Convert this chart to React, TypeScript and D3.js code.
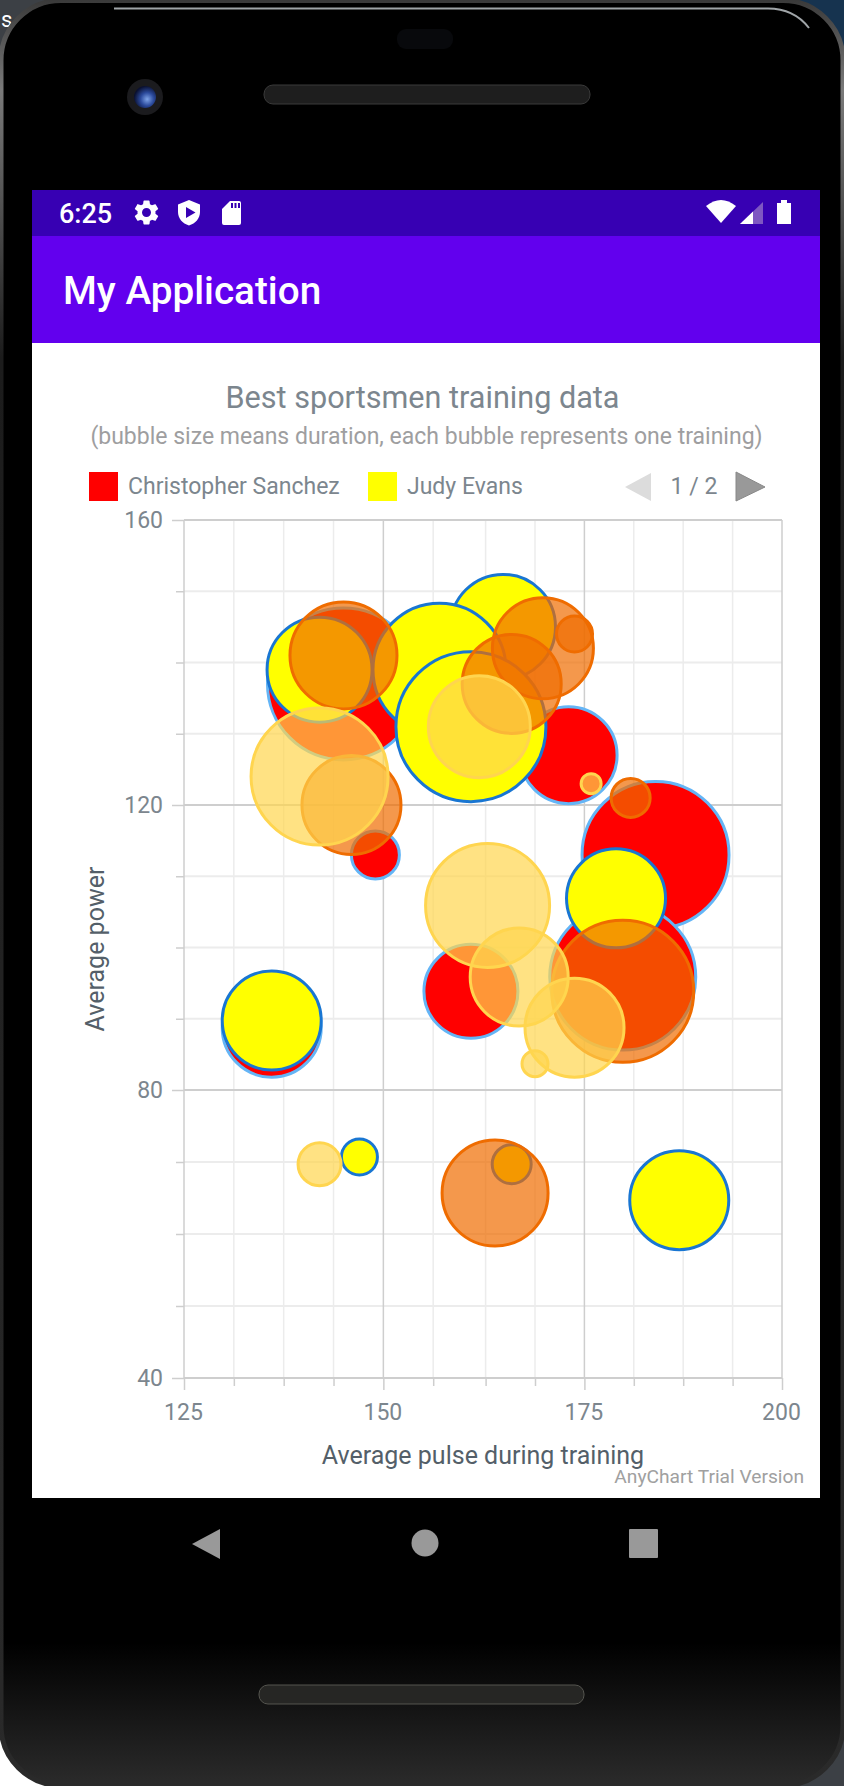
import { useRef, useEffect } from 'react';
import * as d3 from 'd3';

// one training = one bubble: pulse, power, duration
const sanchezPulse = [145, 136, 184, 179.85, 173, 149, 160.75];
const sanchezPower = [137, 88.75, 113, 95.85, 127, 113, 93.85];
const sanchezDuration = [152, 99, 147, 146, 97, 48, 94];

const evansPulse = [164.7, 142, 157, 160.75, 179, 136, 147, 187, 165.8];
const evansPower = [145, 139, 139, 131, 106.9, 89.75, 70.7, 64.7, 69.7];
const evansDuration = [105, 105, 133, 150, 99, 99, 36, 99, 39];

const thirdPulse = [145, 165.8, 169.75, 173.75, 146, 180.85, 179.85, 163.7];
const thirdPower = [141, 137, 142, 144, 120, 121, 93.85, 65.7];
const thirdDuration = [107, 99, 101, 36, 99, 39, 142, 106];

const fourthPulse = [142, 161.75, 175.85, 162.75, 166.75, 173.75, 168.75, 142];
const fourthPower = [124, 131, 123, 105.9, 95.85, 88.75, 83.7, 69.7];
const fourthDuration = [137, 102, 20, 124, 98, 99, 26, 43];

const xMajor = [125, 150, 175, 200];
const yMajor = [40, 80, 120, 160];
const xMinor = [131.25, 137.5, 143.75, 156.25, 162.5, 168.75, 181.25, 187.5, 193.75];
const yMinor = [50, 60, 70, 90, 100, 110, 130, 140, 150];

const legendNames = ['Christopher Sanchez', 'Judy Evans'];

const FONT = 'Roboto, sans-serif';

const GEAR = 'M19.14 12.94c.04-.3.06-.61.06-.94 0-.32-.02-.64-.07-.94l2.03-1.58c.18-.14.23-.41.12-.61l-1.92-3.32c-.12-.22-.37-.29-.59-.22l-2.39.96c-.5-.38-1.03-.7-1.62-.94l-.36-2.54c-.04-.24-.24-.41-.48-.41h-3.84c-.24 0-.43.17-.47.41l-.36 2.54c-.59.24-1.13.57-1.62.94l-2.39-.96c-.22-.08-.47 0-.59.22L2.74 8.87c-.12.21-.08.47.12.61l2.03 1.58c-.05.3-.09.63-.09.94s.02.64.07.94l-2.03 1.58c-.18.14-.23.41-.12.61l1.92 3.32c.12.22.37.29.59.22l2.39-.96c.5.38 1.03.7 1.62.94l.36 2.54c.05.24.24.41.48.41h3.84c.24 0 .44-.17.47-.41l.36-2.54c.59-.24 1.13-.56 1.62-.94l2.39.96c.22.08.47 0 .59-.22l1.92-3.32c.12-.22.07-.47-.12-.61l-2.01-1.58zM12 15.6c-1.98 0-3.6-1.62-3.6-3.6s1.62-3.6 3.6-3.6 3.6 1.62 3.6 3.6-1.62 3.6-3.6 3.6z';

export default function App() {
  const svgRef = useRef<SVGSVGElement>(null);

  useEffect(() => {
    if (!svgRef.current) return;
    const svg = d3.select(svgRef.current);
    svg.selectAll('*').remove();

    const defs = svg.append('defs');
    const bodyGrad = defs.append('linearGradient').attr('id', 'body').attr('x1', 0).attr('x2', 0).attr('y1', 0).attr('y2', 1);
    bodyGrad.append('stop').attr('offset', '0.92').attr('stop-color', '#000');
    bodyGrad.append('stop').attr('offset', '1').attr('stop-color', '#2b2b2b');
    const rimGrad = defs.append('linearGradient').attr('id', 'rim').attr('x1', 0).attr('x2', 0).attr('y1', 0).attr('y2', 1);
    rimGrad.append('stop').attr('offset', '0').attr('stop-color', '#3a3a3a');
    rimGrad.append('stop').attr('offset', '0.05').attr('stop-color', '#7a7a7a');
    rimGrad.append('stop').attr('offset', '0.2').attr('stop-color', '#1c1c1c');
    rimGrad.append('stop').attr('offset', '1').attr('stop-color', '#2a2a2a');
    const lens = defs.append('radialGradient').attr('id', 'lens').attr('cx', '0.6').attr('cy', '0.6').attr('r', '0.6');
    lens.append('stop').attr('offset', '0').attr('stop-color', '#7fa4e8');
    lens.append('stop').attr('offset', '0.5').attr('stop-color', '#2b4a9c');
    lens.append('stop').attr('offset', '1').attr('stop-color', '#0a1030');

    // Backdrop showing in the corners of the phone
    const corners: [number, number, string][] = [
      [0, 0, '#3c4045'], [744, 0, '#16334f'], [0, 1686, '#ffffff'], [744, 1686, '#3c4045'],
    ];
    corners.forEach(([x, y, c]) => {
      svg.append('rect').attr('x', x).attr('y', y).attr('width', 100).attr('height', 100).attr('fill', c);
    });
    svg.append('text').attr('x', 1).attr('y', 27).attr('fill', '#fff').attr('font-family', FONT)
      .attr('font-size', 22).text('s');

    // Phone body
    svg.append('rect').attr('x', 1).attr('y', 0.5).attr('width', 842).attr('height', 1785)
      .attr('rx', 60).attr('fill', 'url(#body)').attr('stroke', 'url(#rim)').attr('stroke-width', 5);
    svg.append('path').attr('d', 'M114 8.5H768C785 8.5 799 15 809 28').attr('fill', 'none')
      .attr('stroke', '#a0a5a8').attr('stroke-width', 2);

    svg.append('circle').attr('cx', 145).attr('cy', 97).attr('r', 18).attr('fill', '#1b1b1e');
    svg.append('circle').attr('cx', 145).attr('cy', 97).attr('r', 11).attr('fill', 'url(#lens)');
    svg.append('rect').attr('x', 264).attr('y', 85).attr('width', 326).attr('height', 19).attr('rx', 9)
      .attr('fill', '#1e1e1e').attr('stroke', '#3a3a3a').attr('stroke-width', 1);
    svg.append('rect').attr('x', 397).attr('y', 29).attr('width', 56).attr('height', 20).attr('rx', 9).attr('fill', '#08090c');
    svg.append('rect').attr('x', 259).attr('y', 1685).attr('width', 325).attr('height', 19).attr('rx', 9)
      .attr('fill', '#262624').attr('stroke', '#55554f').attr('stroke-width', 1);

    // Screen
    svg.append('rect').attr('x', 32).attr('y', 190).attr('width', 788).attr('height', 46).attr('fill', '#3700b3');
    svg.append('rect').attr('x', 32).attr('y', 236).attr('width', 788).attr('height', 107).attr('fill', '#6200ee');
    svg.append('rect').attr('x', 32).attr('y', 343).attr('width', 788).attr('height', 1155).attr('fill', '#fff');

    svg.append('text').attr('x', 59).attr('y', 223).attr('fill', '#fff').attr('font-family', FONT)
      .attr('font-size', 27).attr('font-weight', 500).text('6:25');
    svg.append('path').attr('d', GEAR).attr('fill', '#fff').attr('transform', 'translate(131.5,197.5) scale(1.25)');
    svg.append('path').attr('fill', '#fff').attr('fill-rule', 'evenodd')
      .attr('d', 'M189 200L178 204.5V212C178 218.5 182.5 223.5 189 225.5C195.5 223.5 200 218.5 200 212V204.5ZM186 207L195.5 212.5L186 218Z');
    svg.append('path').attr('fill', '#fff').attr('fill-rule', 'evenodd')
      .attr('d', 'M230 201H239A2 2 0 0 1 241 203V223A2 2 0 0 1 239 225H224A2 2 0 0 1 222 223V209ZM231 203V208H233V203ZM234.5 203V208H236.5V203ZM238 203V208H240V203Z');
    svg.append('path').attr('fill', '#fff').attr('d', 'M706 206Q721 194 736 206L721 223Z');
    svg.append('path').attr('fill', '#7e57c2').attr('d', 'M763 202V224H740Z');
    svg.append('path').attr('fill', '#fff').attr('d', 'M753 211.5V224H740Z');
    svg.append('path').attr('fill', '#fff').attr('d', 'M781 203V200H787V203H791V224H777V203Z');
    svg.append('text').attr('x', 63).attr('y', 304).attr('fill', '#fff').attr('font-family', FONT)
      .attr('font-size', 38.7).attr('font-weight', 500).text('My Application');

    // Navigation bar
    svg.append('path').attr('fill', '#999').attr('d', 'M220 1529V1559L192 1544Z');
    svg.append('circle').attr('cx', 425).attr('cy', 1543).attr('r', 13.5).attr('fill', '#999');
    svg.append('rect').attr('x', 629).attr('y', 1529).attr('width', 29).attr('height', 29).attr('rx', 1).attr('fill', '#999');

    // Title, legend
    svg.append('text').attr('x', 422.5).attr('y', 408).attr('text-anchor', 'middle').attr('fill', '#7c868e')
      .attr('font-family', FONT).attr('font-size', 30.6).text('Best sportsmen training data');
    svg.append('text').attr('x', 426.5).attr('y', 444).attr('text-anchor', 'middle').attr('fill', '#9e9ea0')
      .attr('font-family', FONT).attr('font-size', 23).text('(bubble size means duration, each bubble represents one training)');

    const legendX = [89, 368];
    const legendFill = ['#ff0000', '#ffff00'];
    legendNames.forEach((name, i) => {
      svg.append('rect').attr('x', legendX[i]).attr('y', 472).attr('width', 29).attr('height', 29).attr('fill', legendFill[i]);
      svg.append('text').attr('x', legendX[i] + 39).attr('y', 494).attr('fill', '#7c868e')
        .attr('font-family', FONT).attr('font-size', 23).text(name);
    });
    svg.append('path').attr('d', 'M651 473V501L625 487Z').attr('fill', '#dcdcdc');
    svg.append('text').attr('x', 694).attr('y', 494).attr('text-anchor', 'middle').attr('fill', '#7c868e')
      .attr('font-family', FONT).attr('font-size', 23).text('1 / 2');
    svg.append('path').attr('d', 'M736 472V501L765 487Z').attr('fill', '#999').attr('stroke', '#888');

    // Scales. The screenshot is slightly uneven, hence the extra stops
    const x = d3.scaleLinear().domain([125, 156.25, 162.5, 200]).range([184, 433.2, 485.6, 782]);
    const y = d3.scaleLinear().domain([40, 80, 160]).range([1378, 1090, 520]);
    const r = d3.scaleLinear().domain([0, 152]).range([0, 76]);

    // Grid
    const grid = svg.append('g');
    const gridX = (vals: number[], color: string, width: number) => {
      vals.forEach((v) => {
        grid.append('line').attr('x1', x(v)).attr('x2', x(v)).attr('y1', y(160)).attr('y2', y(40))
          .attr('stroke', color).attr('stroke-width', width);
      });
    };
    const gridY = (vals: number[], color: string, width: number) => {
      vals.forEach((v) => {
        grid.append('line').attr('x1', x(125)).attr('x2', x(200)).attr('y1', y(v)).attr('y2', y(v))
          .attr('stroke', color).attr('stroke-width', width);
      });
    };
    gridX(xMinor, '#ececec', 1.5);
    gridY(yMinor, '#ececec', 2);
    gridX(xMajor, '#cecece', 1.5);
    gridY(yMajor, '#cecece', 2);

    // Axes: minor ticks first, then major with labels
    const styleAxis = (g: d3.Selection<SVGGElement, unknown, null, undefined>) => {
      g.select('.domain').remove();
      g.selectAll('line').attr('stroke', '#cecece').attr('stroke-width', 1.5);
      g.selectAll('text').attr('fill', '#7c868e').attr('font-family', FONT).attr('font-size', 23);
    };
    svg.append('g').attr('transform', `translate(0,${y(40)})`)
      .call(d3.axisBottom(x).tickValues(xMinor).tickSize(8).tickFormat(() => ''))
      .call(styleAxis);
    const bottom = svg.append('g').attr('transform', `translate(-1,${y(40)})`)
      .call(d3.axisBottom(x).tickValues(xMajor).tickSize(12).tickPadding(14).tickFormat((d) => String(d)))
      .call(styleAxis);
    bottom.selectAll('line').attr('transform', 'translate(1,0)');
    svg.append('g').attr('transform', `translate(${x(125)},0)`)
      .call(d3.axisLeft(y).tickValues(yMinor).tickSize(8).tickFormat(() => ''))
      .call(styleAxis);
    svg.append('g').attr('transform', `translate(${x(125)},0)`)
      .call(d3.axisLeft(y).tickValues(yMajor).tickSize(12).tickPadding(9).tickFormat((d) => String(d)))
      .call(styleAxis);

    svg.append('text').attr('x', 483).attr('y', 1464).attr('text-anchor', 'middle').attr('fill', '#545f69')
      .attr('font-family', FONT).attr('font-size', 25).text('Average pulse during training');
    svg.append('text').attr('transform', 'translate(104,949) rotate(-90)').attr('text-anchor', 'middle')
      .attr('fill', '#545f69').attr('font-family', FONT).attr('font-size', 25).text('Average power');
    svg.append('text').attr('x', 804).attr('y', 1483).attr('text-anchor', 'end').attr('fill', '#a0a0a0')
      .attr('font-family', FONT).attr('font-size', 19.2).text('AnyChart Trial Version');

    // Bubbles, one series after the other
    const drawSeries = (pulse: number[], power: number[], duration: number[], fill: string, stroke: string, opacity: number) => {
      svg.append('g').selectAll('circle').data(pulse).join('circle')
        .attr('cx', (d) => x(d))
        .attr('cy', (_, i) => y(power[i]))
        .attr('r', (_, i) => r(duration[i]))
        .attr('fill', fill)
        .attr('fill-opacity', opacity)
        .attr('stroke', stroke)
        .attr('stroke-width', 3);
    };
    drawSeries(sanchezPulse, sanchezPower, sanchezDuration, '#ff0000', '#64b5f6', 1);
    drawSeries(evansPulse, evansPower, evansDuration, '#ffff00', '#1976d2', 1);
    drawSeries(thirdPulse, thirdPower, thirdDuration, '#ef6c00', '#ef6c00', 0.7);
    drawSeries(fourthPulse, fourthPower, fourthDuration, '#ffd54f', '#ffd54f', 0.7);
  }, []);

  return <svg ref={svgRef} width={844} height={1786} style={{ position: 'absolute', left: 0, top: 0, display: 'block' }} />;
}
